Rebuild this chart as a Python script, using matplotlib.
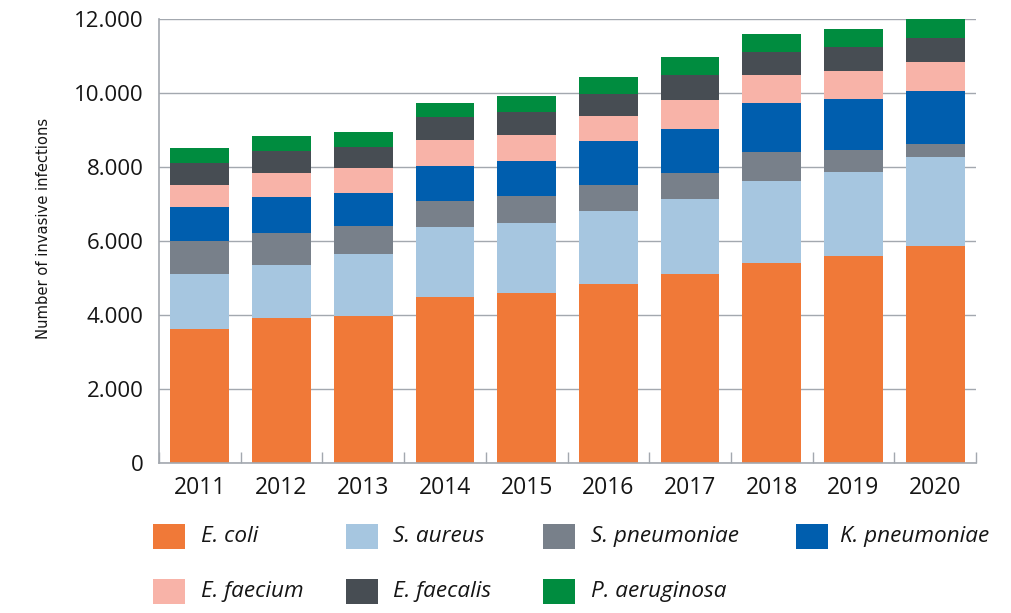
import matplotlib
matplotlib.use("Agg")
import matplotlib.pyplot as plt
from matplotlib import font_manager as fm
from matplotlib.patches import Rectangle
from matplotlib.ticker import FuncFormatter, FixedLocator
import numpy as np

# ---------------- data ----------------
years = ["2011", "2012", "2013", "2014", "2015", "2016", "2017", "2018", "2019", "2020"]
series_names = ["E. coli", "S. aureus", "S. pneumoniae", "K. pneumoniae",
                "E. faecium", "E. faecalis", "P. aeruginosa"]
e_coli = [3640, 3935, 3980, 4505, 4605, 4840, 5110, 5405, 5610, 5865]
s_aureus = [1470, 1425, 1665, 1865, 1875, 1975, 2015, 2215, 2245, 2405]
s_pneumoniae = [890, 865, 775, 715, 750, 710, 715, 795, 620, 360]
k_pneumoniae = [920, 965, 890, 935, 945, 1170, 1190, 1305, 1370, 1415]
e_faecium = [600, 650, 675, 720, 695, 695, 785, 775, 740, 795]
e_faecalis = [590, 585, 560, 615, 605, 595, 685, 620, 650, 655]
p_aeruginosa = [395, 405, 400, 370, 440, 450, 480, 480, 485, 505]
y_ticks = [0, 2000, 4000, 6000, 8000, 10000, 12000]
y_label = "Number of invasive infections"

series_values = [e_coli, s_aureus, s_pneumoniae, k_pneumoniae,
                 e_faecium, e_faecalis, p_aeruginosa]

# ---------------- style ----------------
colors = ["#F07938", "#A6C6E0", "#78808A", "#005EAE",
          "#F8B3A8", "#474D53", "#008C3F"]
grid_color = "#A3A8AF"
text_color = "#151515"
W, H = 1011, 613

plt.rcParams["font.family"] = ["Open Sans", "DejaVu Sans"]

# condensed font for the y label, if available
cond_fp = None
for f in fm.fontManager.ttflist:
    n = f.fname.lower()
    if ("condensed" in n or "narrow" in n) and "bold" not in n and "oblique" not in n \
            and "italic" not in n and "light" not in n and "mono" not in n and "serif" not in n:
        cond_fp = fm.FontProperties(fname=f.fname)
        break

fig = plt.figure(figsize=(W / 100, H / 100), dpi=100)
ax = fig.add_axes([159 / W, 1 - 463.3 / H, (976 - 159) / W, (463.3 - 19) / H])

x = np.arange(len(years))
bottom = np.zeros(len(years))
for vals, col, name in zip(series_values, colors, series_names):
    ax.bar(x, vals, width=0.72, bottom=bottom, color=col, label=name,
           edgecolor="none", zorder=2)
    bottom += np.array(vals)

ax.set_xlim(-0.5, len(years) - 0.5)
ax.set_ylim(y_ticks[0], y_ticks[-1])
ax.set_axisbelow(True)

ax.yaxis.set_major_locator(FixedLocator(y_ticks))
ax.yaxis.set_major_formatter(FuncFormatter(lambda v, p: f"{int(v):,}".replace(",", ".")))
ax.grid(axis="y", color=grid_color, linewidth=1.0, zorder=0)
ax.tick_params(axis="y", length=0, pad=11, labelsize=16, labelcolor=text_color)

ax.set_xticks(x)
ax.set_xticklabels(years)
ax.set_xticks(np.arange(-0.5, len(years)), minor=True)
ax.tick_params(axis="x", which="major", length=0, pad=9, labelsize=16.5, labelcolor=text_color)
ax.tick_params(axis="x", which="minor", direction="in", length=8, width=1.0, color=grid_color)

for side in ["top", "right"]:
    ax.spines[side].set_visible(False)
for side in ["left", "bottom"]:
    ax.spines[side].set_color(grid_color)
    ax.spines[side].set_linewidth(1.2)

if cond_fp is not None:
    fig.text(44 / W, 1 - 228 / H, y_label, rotation=90, ha="center", va="center",
             fontproperties=cond_fp, fontsize=11.8, color=text_color)
else:
    fig.text(44 / W, 1 - 228 / H, y_label, rotation=90, ha="center", va="center",
             fontsize=10.5, color=text_color)

# ---------------- legend (manual grid) ----------------
col_sq_x = [153, 346, 543, 796]
col_tx_x = [201, 393, 591, 840]
row_y = [536.7, 591.7]
sq_w, sq_h = 32, 25
for i, (name, col) in enumerate(zip(series_names, colors)):
    r, c = divmod(i, 4)
    fig.add_artist(Rectangle((col_sq_x[c] / W, 1 - (row_y[r] + sq_h / 2) / H),
                             sq_w / W, sq_h / H, transform=fig.transFigure,
                             facecolor=col, edgecolor="none"))
    fig.text(col_tx_x[c] / W, 1 - row_y[r] / H, name, ha="left", va="center",
             fontsize=16.2, style="italic", color=text_color)

fig.savefig("out.png", dpi=100)
